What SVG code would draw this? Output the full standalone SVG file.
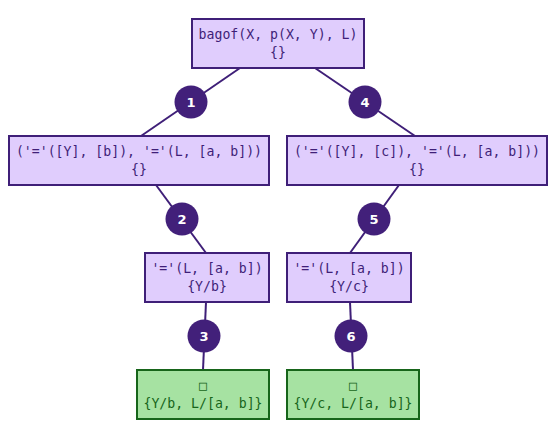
<svg xmlns="http://www.w3.org/2000/svg" width="556" height="438" viewBox="0 0 556 438">
<style>
.n rect{fill:#e0cdfd;stroke:#3f1f78;stroke-width:2}
.n text{fill:#3f1f78}
.g rect{fill:#a6e2a2;stroke:#17651a;stroke-width:2}
.g text{fill:#17651a}
text{font-family:"DejaVu Sans Mono",monospace;font-size:13.2px;text-anchor:middle}
.e line{stroke:#3f1f78;stroke-width:2}
.e circle{fill:#42207a}
.e text{fill:#ffffff;font-family:"DejaVu Sans",sans-serif;font-weight:bold;font-size:13px}
</style>
<rect width="556" height="438" fill="#ffffff"/>
<g class="e" id="connectors">
<line x1="240" y1="68" x2="141" y2="136"/>
<line x1="315" y1="68" x2="415" y2="136"/>
<line x1="156" y1="185" x2="206" y2="253"/>
<line x1="399" y1="185" x2="350" y2="253"/>
<line x1="206" y1="302" x2="203" y2="370"/>
<line x1="350" y1="302" x2="353" y2="370"/>
<circle cx="191" cy="102" r="16.5"/><text x="191" y="107">1</text>
<circle cx="365" cy="102" r="16.5"/><text x="365" y="107">4</text>
<circle cx="182" cy="219" r="16.5"/><text x="182" y="224">2</text>
<circle cx="374" cy="219" r="16.5"/><text x="374" y="224">5</text>
<circle cx="204" cy="336" r="16.5"/><text x="204" y="341">3</text>
<circle cx="351" cy="336" r="16.5"/><text x="351" y="341">6</text>
</g>
<g class="n" id="root"><rect x="192" y="19" width="172" height="49"/><text x="278" y="39">bagof(X, p(X, Y), L)</text><text x="278" y="57">{}</text></g>
<g class="n" id="n1"><rect x="9" y="136" width="260" height="49"/><text x="139" y="156">('='([Y], [b]), '='(L, [a, b]))</text><text x="139" y="174">{}</text></g>
<g class="n" id="n4"><rect x="287" y="136" width="260" height="49"/><text x="417" y="156">('='([Y], [c]), '='(L, [a, b]))</text><text x="417" y="174">{}</text></g>
<g class="n" id="n2"><rect x="145" y="253" width="124" height="49"/><text x="207" y="273">'='(L, [a, b])</text><text x="207" y="291">{Y/b}</text></g>
<g class="n" id="n5"><rect x="287" y="253" width="124" height="49"/><text x="349" y="273">'='(L, [a, b])</text><text x="349" y="291">{Y/c}</text></g>
<g class="g" id="n3"><rect x="137" y="370" width="132" height="49"/><text x="203" y="390">□</text><text x="203" y="408">{Y/b, L/[a, b]}</text></g>
<g class="g" id="n6"><rect x="287" y="370" width="132" height="49"/><text x="353" y="390">□</text><text x="353" y="408">{Y/c, L/[a, b]}</text></g>
</svg>
